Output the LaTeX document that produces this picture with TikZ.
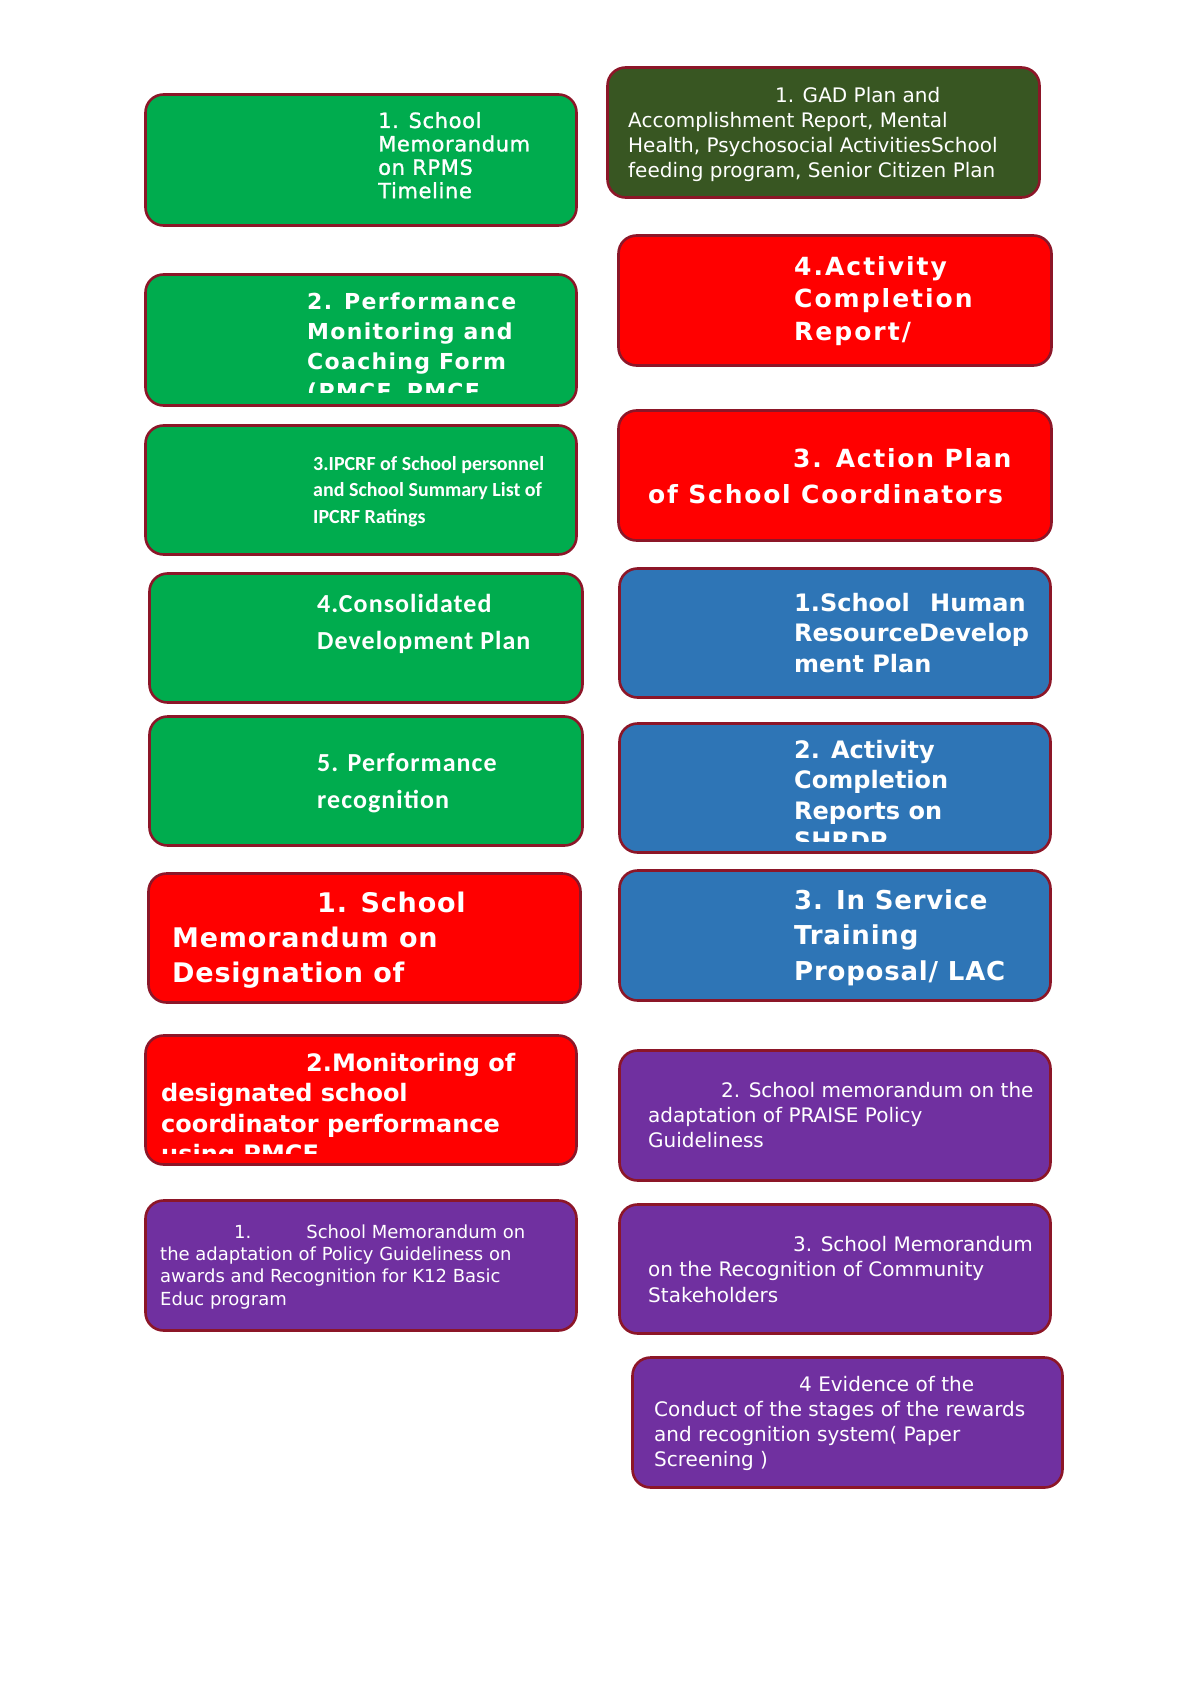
\documentclass[tikz,border=0pt]{standalone}
\usepackage{fontspec}
\usetikzlibrary{fit}
\newfontfamily\fR{DejaVu Sans}
\newfontfamily\fM{DejaVu Sans}[FakeBold=1.2]
\newfontfamily\fC{Carlito}
\definecolor{bord}{RGB}{140,22,40}
\definecolor{gr}{RGB}{0,172,78}
\definecolor{olive}{RGB}{56,86,34}
\definecolor{rd}{RGB}{255,0,0}
\definecolor{bl}{RGB}{46,117,182}
\definecolor{pu}{RGB}{112,48,160}
\tikzset{
  box/.style={draw=bord, line width=2.6pt, rounded corners=18pt, inner sep=0pt},
  txt/.style={anchor=base west, inner sep=0pt, text=white},
}
\newcommand\boxlines[6]{%
  \foreach \ltxt [count=\i from 0] in {#6}{%
    \node[txt, font=#5] (#1-\i) at ({#2},{#3+\i*#4}) {\ltxt};}}
\begin{document}
\begin{tikzpicture}[x=1pt,y=-1pt]
\useasboundingbox (0,0) rectangle (1200,1696);
% ---------- boxes ----------
\node[box, fill=gr,    fit={(145.5,94.5) (576.5,225.5)}]   (g1) {};
\node[box, fill=gr,    fit={(145.5,274.5) (576.5,405.5)}]  (g2) {};
\node[box, fill=gr,    fit={(145.5,425.5) (576.5,554.5)}]  (g3) {};
\node[box, fill=gr,    fit={(149.5,573.5) (582.5,702.5)}]  (g4) {};
\node[box, fill=gr,    fit={(149.5,716.5) (582.5,845.5)}]  (g5) {};
\node[box, fill=rd,    fit={(148.5,873.5) (580.5,1002.5)}] (r1) {};
\node[box, fill=rd,    fit={(145.5,1035.5) (576.5,1164.5)}] (r2) {};
\node[box, fill=pu,    fit={(145.5,1200.5) (576.5,1330.5)}] (p1) {};
\node[box, fill=olive, fit={(607.5,67.5) (1039.5,197.5)}]  (o1) {};
\node[box, fill=rd,    fit={(618.5,235.5) (1051.5,365.5)}] (r3) {};
\node[box, fill=rd,    fit={(618.5,410.5) (1051.5,540.5)}] (r4) {};
\node[box, fill=bl,    fit={(619.5,568.5) (1050.5,697.5)}] (b1) {};
\node[box, fill=bl,    fit={(619.5,723.5) (1050.5,852.5)}] (b2) {};
\node[box, fill=bl,    fit={(619.5,870.5) (1050.5,1000.5)}] (b3) {};
\node[box, fill=pu,    fit={(619.5,1050.5) (1050.5,1180.5)}] (p2) {};
\node[box, fill=pu,    fit={(619.5,1204.5) (1050.5,1333.5)}] (p3) {};
\node[box, fill=pu,    fit={(632.5,1357.5) (1062.5,1487.5)}] (p4) {};
% ---------- texts ----------
\boxlines{tg1}{378}{128}{23.4}{\fM\fontsize{21}{25}\selectfont\addfontfeatures{LetterSpace=3}}
  {1. School,Memorandum,on RPMS,Timeline}
\begin{scope}
\clip (0,0) rectangle (1200,392);
\boxlines{tg2}{307}{309}{30.3}{\fR\bfseries\fontsize{22}{26}\selectfont\addfontfeatures{LetterSpace=6}}
  {2. Performance,Monitoring and,Coaching Form,{(PMCF, PMCF}}
\end{scope}
\boxlines{tg3}{313}{470}{26.6}{\fC\bfseries\fontsize{20}{24}\selectfont}
  {3.IPCRF of School personnel,and School Summary List of,IPCRF Ratings}
\boxlines{tg4}{317}{612}{37}{\fC\bfseries\fontsize{26}{30}\selectfont\addfontfeatures{LetterSpace=4}}
  {4.Consolidated,Development Plan}
\boxlines{tg5}{317}{771}{37}{\fC\bfseries\fontsize{26}{30}\selectfont\addfontfeatures{LetterSpace=4}}
  {5. Performance,recognition}
\boxlines{tr1}{172}{912}{35}{\fR\bfseries\fontsize{27}{31}\selectfont\addfontfeatures{LetterSpace=3}}
  {\hspace*{145pt}1. School,Memorandum on,Designation of}
\begin{scope}
\clip (0,0) rectangle (1200,1153);
\boxlines{tr2}{161}{1071}{30.5}{\fR\bfseries\fontsize{24}{28}\selectfont}
  {\hspace*{145pt}2.Monitoring of,designated school,coordinator performance,using PMCF}
\end{scope}
\boxlines{tp1}{160}{1238}{22.4}{\fR\fontsize{18}{22}\selectfont}
  {\hspace*{74pt}1.\hspace*{55pt}School Memorandum on,the adaptation of Policy Guideliness on,awards and Recognition for K12 Basic,Educ program}
\boxlines{to1}{628}{103}{25}{\fR\fontsize{20}{24}\selectfont}
  {\hspace*{147pt}1. GAD Plan and,{Accomplishment Report, Mental},{Health, Psychosocial ActivitiesSchool},{feeding program, Senior Citizen Plan}}
\boxlines{tr3}{794}{275}{32.5}{\fR\bfseries\fontsize{25}{29}\selectfont\addfontfeatures{LetterSpace=8}}
  {4.Activity,Completion,Report/}
\boxlines{tr4}{648}{467}{36}{\fR\bfseries\fontsize{25}{29}\selectfont\addfontfeatures{LetterSpace=7}}
  {\hspace*{145pt}3. Action Plan,of School Coordinators}
\boxlines{tb1}{794}{611}{30.5}{\fR\bfseries\fontsize{24}{28}\selectfont}
  {1.School\hspace*{12pt} Human,ResourceDevelop,ment Plan}
\begin{scope}
\clip (0,0) rectangle (1200,841);
\boxlines{tb2}{794}{758}{30.5}{\fR\bfseries\fontsize{24}{28}\selectfont}
  {2. Activity,Completion,Reports on,SHRDP}
\end{scope}
\boxlines{tb3}{794}{909}{35.5}{\fR\bfseries\fontsize{26}{30}\selectfont\addfontfeatures{LetterSpace=3}}
  {3. In Service,Training,Proposal/ LAC}
\boxlines{tp2}{648}{1097}{25}{\fR\fontsize{20}{24}\selectfont}
  {\hspace*{73pt}2. School memorandum on the,adaptation of PRAISE Policy,Guideliness}
\boxlines{tp3}{648}{1251}{25.5}{\fR\fontsize{20}{24}\selectfont}
  {\hspace*{145pt}3. School Memorandum,on the Recognition of Community,Stakeholders}
\boxlines{tp4}{654}{1391}{25}{\fR\fontsize{20}{24}\selectfont}
  {\hspace*{145pt}4 Evidence of the,Conduct of the stages of the rewards,and recognition system( Paper,Screening )}
\end{tikzpicture}
\end{document}
